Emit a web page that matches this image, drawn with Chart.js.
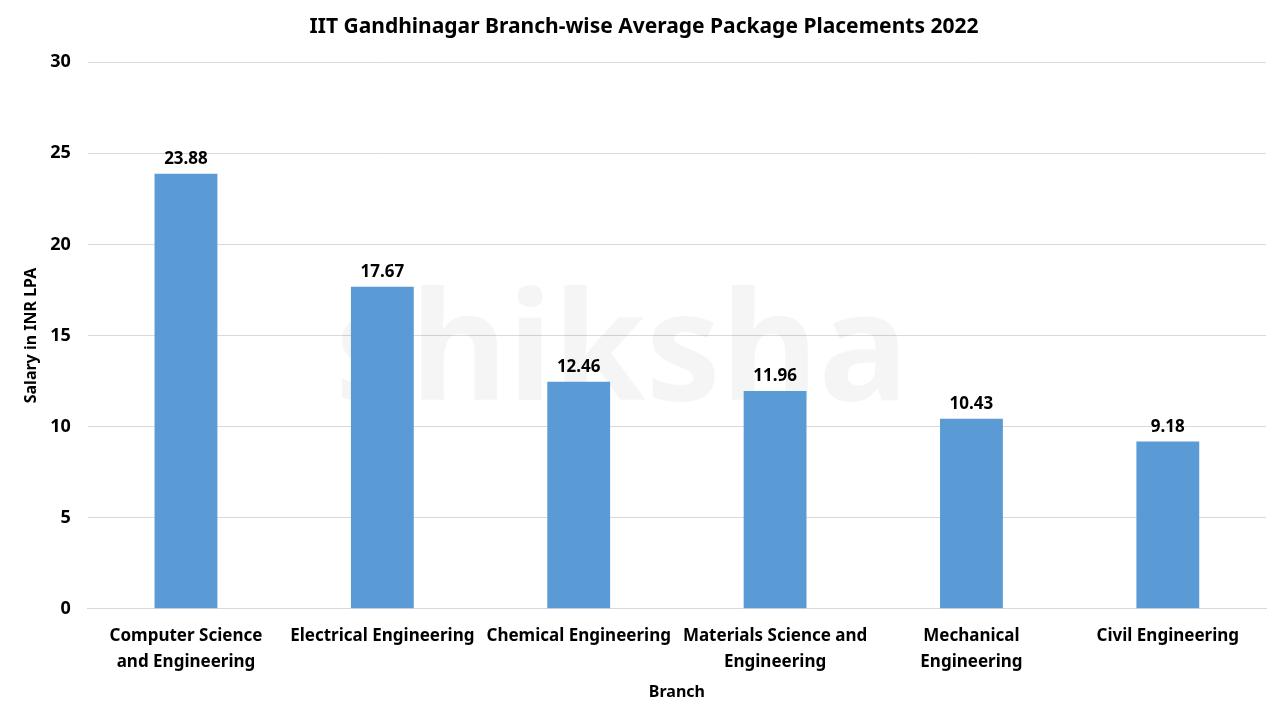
<!DOCTYPE html>
<html>
<head>
<meta charset="utf-8">
<script src="https://cdn.jsdelivr.net/npm/chart.js@4"></script>
<style>
    html, body { margin: 0; padding: 0; background: #ffffff; }
    #wrap { width: 1280px; height: 720px; position: relative; }
</style>
</head>
<body>
<div id="wrap"><canvas id="placement_chart"></canvas></div>
<script>
const branches = [
    ["Computer Science", "and Engineering"],
    "Electrical Engineering",
    "Chemical Engineering",
    ["Materials Science and", "Engineering"],
    ["Mechanical", "Engineering"],
    "Civil Engineering"
];
const avgPackage = [23.88, 17.67, 12.46, 11.96, 10.43, 9.18];
const yTicks = [0, 5, 10, 15, 20, 25, 30];

const fontFamily = "'Noto Sans', sans-serif";

// faint watermark behind the bars
const watermark = {
    id: 'watermark',
    beforeDatasetsDraw(chart) {
        const ctx = chart.ctx;
        ctx.save();
        ctx.fillStyle = 'rgba(0,0,0,0.04)';
        ctx.font = "bold 150px 'Noto Sans', sans-serif";
        ctx.textAlign = 'left';
        ctx.textBaseline = 'alphabetic';
        ctx.fillText('shiksha', 335, 400);
        ctx.restore();
    }
};

// value labels above every bar
const barLabels = {
    id: 'barLabels',
    afterDatasetsDraw(chart) {
        const ctx = chart.ctx;
        const meta = chart.getDatasetMeta(0);
        ctx.save();
        ctx.fillStyle = '#000000';
        ctx.font = "bold 17px " + fontFamily;
        ctx.textAlign = 'center';
        ctx.textBaseline = 'bottom';
        meta.data.forEach(function (bar, i) {
            ctx.fillText(avgPackage[i].toFixed(2), bar.x, bar.y - 6);
        });
        ctx.restore();
    }
};

let ctx = document.getElementById("placement_chart").getContext("2d");
let chart = new Chart(ctx, {
    type: "bar",
    data: {
        labels: branches,
        datasets: [
            {
                label: "Average Package",
                data: avgPackage,
                backgroundColor: "#5B9BD5",
                borderWidth: 0,
                categoryPercentage: 1.0,
                barPercentage: 0.32
            }
        ]
    },
    options: {
        responsive: true,
        maintainAspectRatio: false,
        animation: false,
        layout: {
            padding: { left: 22, right: 14, top: 0, bottom: 18 }
        },
        scales: {
            y: {
                min: 0,
                max: 30,
                afterBuildTicks: function (axis) {
                    axis.ticks = yTicks.map(function (v) { return { value: v }; });
                },
                afterFit: function (axis) {
                    axis.width -= 8;
                },
                grid: {
                    color: '#d9d9d9',
                    lineWidth: 1,
                    drawTicks: false
                },
                border: { display: false },
                ticks: {
                    color: '#000000',
                    padding: 17,
                    font: { family: fontFamily, size: 18, weight: 'bold' }
                },
                title: {
                    display: true,
                    text: 'Salary in INR LPA',
                    color: '#000000',
                    padding: { top: 0, bottom: 0 },
                    font: { family: fontFamily, size: 16, weight: 'bold' }
                }
            },
            x: {
                grid: { display: false, drawTicks: false },
                border: { display: true, color: '#d9d9d9' },
                ticks: {
                    color: '#000000',
                    padding: 14,
                    maxRotation: 0,
                    autoSkip: false,
                    font: { family: fontFamily, size: 17, weight: 'bold', lineHeight: 1.53 }
                },
                title: {
                    display: true,
                    text: 'Branch',
                    color: '#000000',
                    padding: { top: -6, bottom: 0 },
                    font: { family: fontFamily, size: 16, weight: 'bold' }
                }
            }
        },
        plugins: {
            legend: { display: false },
            tooltip: { enabled: false },
            title: {
                display: true,
                text: 'IIT Gandhinagar Branch-wise Average Package Placements 2022',
                color: '#000000',
                padding: { top: 14, bottom: 23 },
                font: { family: fontFamily, size: 21, weight: 'bold' }
            }
        }
    },
    plugins: [watermark, barLabels]
});
</script>
</body>
</html>
